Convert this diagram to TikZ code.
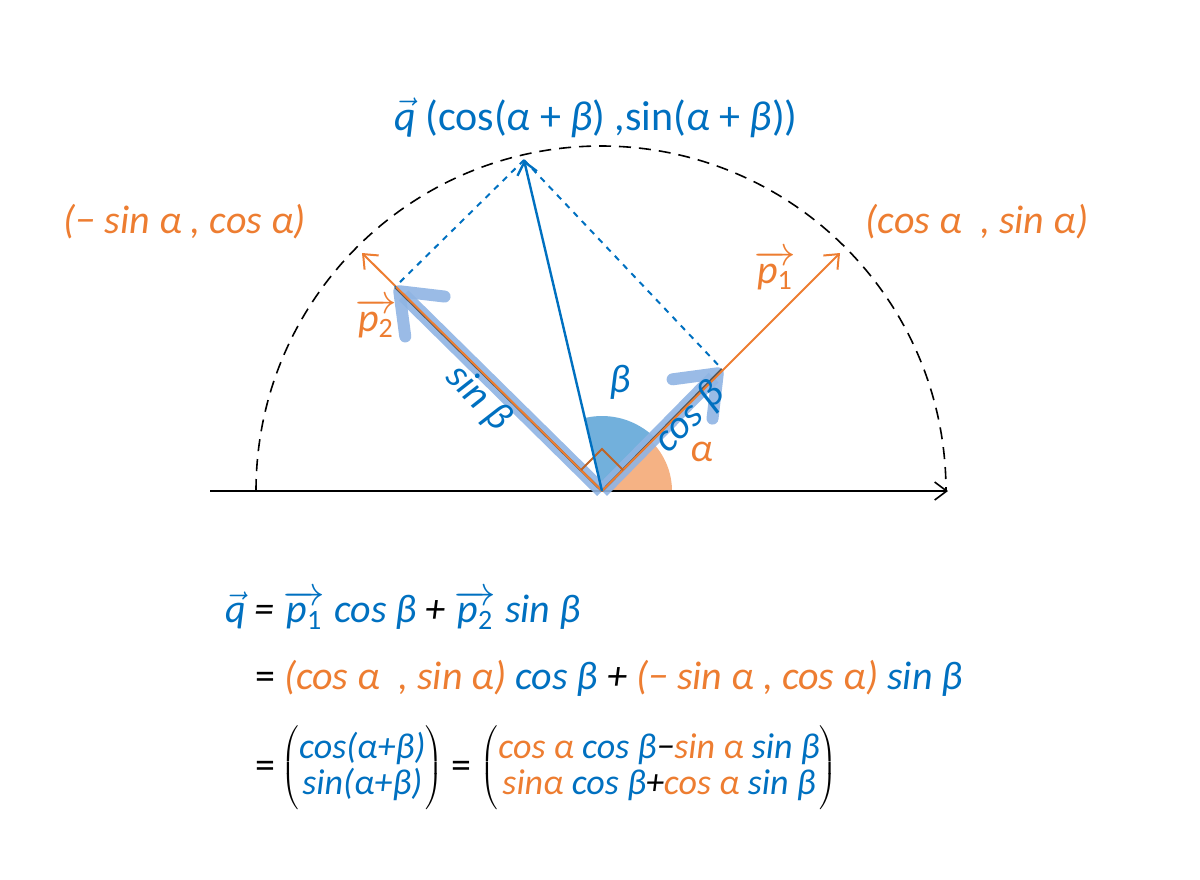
\documentclass[tikz,border=0pt]{standalone}
\usepackage{fontspec}
\setmainfont{Carlito}
\usetikzlibrary{arrows.meta}
\definecolor{qb}{HTML}{0070C0}
\definecolor{po}{HTML}{ED7D31}
\definecolor{lb}{HTML}{8FB4E3}
\newcommand{\vp}[1]{$\overrightarrow{\mbox{\itshape p\textsubscript{\upshape #1}}}$}
\begin{document}
\begin{tikzpicture}[x=0.5pt,y=-0.5pt,
  lbl/.style={font=\fontsize{20}{22}\selectfont\itshape},
  eq/.style={font=\fontsize{20}{22}\selectfont\itshape,anchor=west},
  wide/.style={lb,opacity=0.9,line width=7pt,-{Straight Barb[round,length=18pt,width=28pt,line width=6pt]}}]
\useasboundingbox (0,0) rectangle (1200,879);
\coordinate (O) at (602,491);
\coordinate (Q) at (524,160);
\coordinate (P1) at (840,253);
\coordinate (P2) at (362,253);
\coordinate (A) at (722,369);
\coordinate (B) at (395,287);
% wedges
\fill[po!70!white,opacity=0.85] (O) -- ++(0:70) arc[start angle=0,end angle=-45,radius=70] -- cycle;
\fill[qb!65!white,opacity=0.85] (O) -- ++(-45:75) arc[start angle=-45,end angle=-103,radius=75] -- cycle;
% axis and circle
\draw[thick,-{Straight Barb[length=6pt,width=9pt]}] (210,491) -- (948,491);
\draw[thick,dashed,dash pattern=on 6pt off 4pt] (256,491) arc[start angle=180,end angle=360,radius=345];
% wide arrows
\draw[wide] (O) -- (B);
\draw[wide] (O) -- (A);
\draw[gray!70!black,line width=1.2pt] (O) -- (B);
\draw[gray!70!black,line width=1.2pt] (O) -- (A);
% orange vectors
\draw[po,line width=1pt,-{Straight Barb[length=6pt,width=10pt]}] (O) -- (P1);
\draw[po,line width=1pt,-{Straight Barb[length=6pt,width=10pt]}] (O) -- (P2);
% right angle
\draw[po!80!black,line width=1pt] (623,470) -- (602,449) -- (581,470);
% q
\draw[qb,line width=1.2pt,-{Straight Barb[length=6pt,width=10pt]}] (O) -- (Q);
\draw[qb,dashed,line width=1pt] (Q) -- (B);
\draw[qb,dashed,line width=1pt] (Q) -- (A);
% labels
\node[lbl,text=qb,font=\fontsize{21}{23}\selectfont] (tq) at (596,118) {$\vec{\mbox{\itshape q}}$ (cos(\textit{α} + \textit{β}) ,sin(\textit{α} + \textit{β}))};
\node[lbl,text=po] (tl) at (185,222) {(− sin α , cos α)};
\node[lbl,text=po] (tr) at (977,222) {(cos α \ , sin α)};
\node[lbl,text=po] (lp1) at (775,270) {\vp{1}};
\node[lbl,text=po] (lp2) at (376,318) {\vp{2}};
\node[lbl,text=qb,rotate=-45] (ls) at (478,398) {sin β};
\node[lbl,text=qb,rotate=45] (lc) at (690,418) {cos β};
\node[lbl,text=qb] (lbeta) at (620,382) {β};
\node[lbl,text=po] (lalpha) at (702,452) {α};
% equations
\node[eq] (e1) at (218,610) {\textcolor{qb}{$\vec{\mbox{\itshape q}}$} = \textcolor{qb}{\vp{1} cos β} + \textcolor{qb}{\vp{2} sin β}};
\node[eq] (e2) at (248,678) {\upshape = \itshape\textcolor{po}{(cos α \ , sin α)} \textcolor{qb}{cos β} + \textcolor{po}{(− sin α , cos α)} \textcolor{qb}{sin β}};
\node[eq] (e3) at (248,768) {\upshape =\,$\left(\begin{array}{@{}c@{}}\mbox{\fontsize{18}{19}\selectfont\itshape\color{qb}cos(α+β)}\\[-4pt]\mbox{\fontsize{18}{19}\selectfont\itshape\color{qb}sin(α+β)}\end{array}\right)$ = $\left(\begin{array}{@{}c@{}}\mbox{\fontsize{18}{19}\selectfont\itshape\color{po}cos α \color{qb}cos β\color{black}−\color{po}sin α \color{qb}sin β}\\[-4pt]\mbox{\fontsize{18}{19}\selectfont\itshape\color{po}sinα \color{qb}cos β\color{black}+\color{po}cos α \color{qb}sin β}\end{array}\right)$};
\end{tikzpicture}
\end{document}
